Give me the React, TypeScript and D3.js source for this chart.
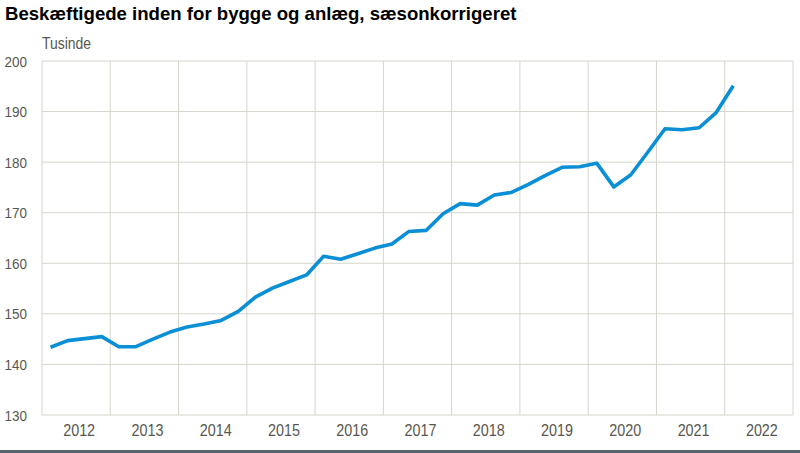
import React from "react";
import * as d3 from "d3";

const title = "Beskæftigede inden for bygge og anlæg, sæsonkorrigeret";
const unitLabel = "Tusinde";
const years = ["2012", "2013", "2014", "2015", "2016", "2017", "2018", "2019", "2020", "2021", "2022"];
const yTicks = [130, 140, 150, 160, 170, 180, 190, 200];
// quarterly values, 2012K1 .. 2022K1
const quarters = [
  "2012K1", "2012K2", "2012K3", "2012K4",
  "2013K1", "2013K2", "2013K3", "2013K4",
  "2014K1", "2014K2", "2014K3", "2014K4",
  "2015K1", "2015K2", "2015K3", "2015K4",
  "2016K1", "2016K2", "2016K3", "2016K4",
  "2017K1", "2017K2", "2017K3", "2017K4",
  "2018K1", "2018K2", "2018K3", "2018K4",
  "2019K1", "2019K2", "2019K3", "2019K4",
  "2020K1", "2020K2", "2020K3", "2020K4",
  "2021K1", "2021K2", "2021K3", "2021K4",
  "2022K1",
];
const values = [
  143.4, 144.7, 145.1, 145.5,
  143.5, 143.5, 145.0, 146.4,
  147.4, 148.0, 148.7, 150.5,
  153.3, 155.1, 156.4, 157.7,
  161.4, 160.8, 161.9, 163.0,
  163.8, 166.3, 166.5, 169.8,
  171.8, 171.5, 173.5, 174.0,
  175.6, 177.4, 179.0, 179.1,
  179.8, 175.1, 177.5, 182.0,
  186.6, 186.4, 186.8, 189.8,
  195.1,
];

const W = 800;
const H = 453;
const left = 42;
const right = 793;
const top = 61;
const bottom = 415;

export default function App() {
  const nQ = years.length * 4;
  const x = d3.scaleLinear().domain([0, nQ]).range([left, right]);
  const y = d3.scaleLinear().domain([130, 200]).range([bottom, top]);
  const line = d3
    .line<number>()
    .x((_, i) => x(i + 0.5))
    .y((d) => y(d));
  const grid = "#d6d5cc";
  const txt = "#59574f";
  const font = "'Liberation Sans', Arial, sans-serif";
  const sx = 0.87;
  return (
    <svg
      width={W}
      height={H}
      style={{ position: "absolute", left: 0, top: 0, background: "#fff" }}
    >
      <text x={5} y={20} fontFamily={font} fontWeight="bold" fontSize={18.6} fill="#000">
        {title}
      </text>
      <text transform={`translate(42,49) scale(${sx},1)`} fontFamily={font} fontSize={16} fill={txt}>
        {unitLabel}
      </text>
      {yTicks.map((t) => (
        <line key={"g" + t} x1={left} x2={right} y1={y(t)} y2={y(t)} stroke={grid} strokeWidth={1} />
      ))}
      {d3.range(years.length + 1).map((i) => (
        <line key={i} x1={x(i * 4)} x2={x(i * 4)} y1={top} y2={bottom} stroke={grid} strokeWidth={1} />
      ))}
      {yTicks.map((t) => (
        <text
          key={"t" + t}
          transform={`translate(27,${y(t) + 5.5}) scale(${sx},1)`}
          textAnchor="end"
          fontFamily={font}
          fontSize={15.5}
          fill={txt}
        >
          {t}
        </text>
      ))}
      {years.map((yr, i) => (
        <text
          key={yr}
          transform={`translate(${x(i * 4 + 2) + 3},435.5) scale(${sx},1)`}
          textAnchor="middle"
          fontFamily={font}
          fontSize={16.5}
          fill={txt}
        >
          {yr}
        </text>
      ))}
      <path d={line(values) || ""} fill="none" stroke="#0a8fd6" strokeWidth={3.6} strokeLinejoin="round" />
      <rect x={0} y={450} width={W} height={3} fill="#56636e" />
    </svg>
  );
}
